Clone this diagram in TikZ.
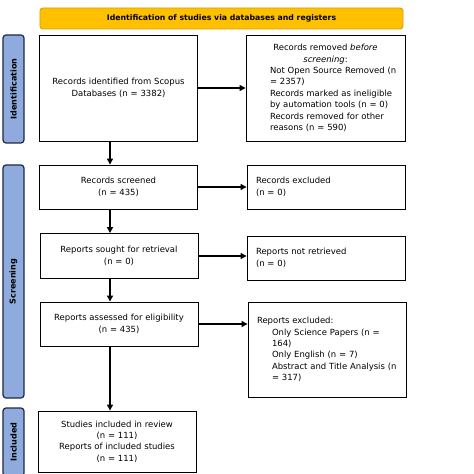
\documentclass[tikz,border=0pt]{standalone}
\usepackage{fontspec}
\setmainfont{DejaVu Sans}
\usetikzlibrary{arrows.meta}
\definecolor{bannerfill}{HTML}{FFC000}
\definecolor{bannerline}{HTML}{E39B00}
\definecolor{phasefill}{HTML}{8FAADC}
\definecolor{phaseline}{HTML}{1F2A44}

\begin{document}
\begin{tikzpicture}[x=1bp, y=-1bp,
  box/.style={draw, line width=0.9bp, minimum width=158bp, inner sep=0pt,
    font=\fontsize{8.5}{11.4}\selectfont},
  midbox/.style={box, align=center, text width=154bp},
  sidebox/.style={box, text width=148bp},
  phase/.style={draw=phaseline, fill=phasefill, line width=1.2bp, rounded corners=3bp,
    rotate=90, minimum height=21bp, inner sep=0pt, font=\fontsize{8.1}{9}\selectfont\bfseries},
  flow/.style={line width=1.3bp, -{Triangle[length=6bp, width=6bp]}}]
  \useasboundingbox (0,0) rectangle (474,474);

  \node[draw=bannerline, fill=bannerfill, line width=0.9bp, rounded corners=3bp,
    minimum width=363bp, minimum height=21bp, inner sep=0pt,
    font=\fontsize{7.8}{9}\selectfont\bfseries] (banner) at (221.5,18.5)
    {Identification of studies via databases and registers};

  \node[phase, minimum width=108bp] (phaseid) at (13.5,89) {Identification};
  \node[phase, minimum width=233bp] (phasescr) at (13.5,281.5) {Screening};
  \node[phase, minimum width=68bp] (phaseinc) at (13.5,442) {Included};

  \node[midbox, minimum height=106bp] (ident) at (118.5,88)
    {Records identified from Scopus\\Databases (n = 3382)};
  \node[sidebox, minimum width=159bp, minimum height=106bp] (removed) at (325.5,88)
    {{\centering Records removed \textit{before}\\\textit{screening}:\par}
     {\raggedright\leftskip=18.5bp Not Open Source Removed (n\\= 2357)\\
      Records marked as ineligible\\by automation tools (n = 0)\\
      Records removed for other\\reasons (n = 590)\par}};

  \node[midbox, minimum height=44bp] (screened) at (118.5,187)
    {Records screened\\(n = 435)};
  \node[sidebox, minimum height=44bp] (excluded) at (326,187)
    {{\raggedright\leftskip=4bp Records excluded\\(n = 0)\par}};

  \node[midbox, minimum height=45bp] (sought) at (119,256)
    {Reports sought for retrieval\\(n = 0)};
  \node[sidebox, minimum height=44bp] (notret) at (326,258)
    {{\raggedright\leftskip=4bp Reports not retrieved\\(n = 0)\par}};

  \node[midbox, minimum height=44bp] (assessed) at (119,324)
    {Reports assessed for eligibility\\(n = 435)};
  \node[sidebox, minimum height=95bp] (repexcl) at (327,349.5)
    {{\raggedright\leftskip=4bp Reports excluded:\par}
     {\raggedright\leftskip=19bp Only Science Papers (n =\\164)\\Only English (n = 7)\\
      Abstract and Title Analysis (n\\= 317)\par}\vspace*{20bp}};

  \node[midbox, minimum height=61bp] (included) at (117,441.5)
    {Studies included in review\\(n = 111)\\Reports of included studies\\(n = 111)};

  \draw[flow] (ident.east) -- (removed.west);
  \draw[flow] (screened.east) -- (excluded.west);
  \draw[flow] (sought.east) -- (sought.east -| notret.west);
  \draw[flow] (assessed.east) -- (assessed.east -| repexcl.west);
  \draw[flow] ([xshift=-8.5bp]ident.south) -- ([xshift=-8.5bp]screened.north);
  \draw[flow] ([xshift=-8.5bp]screened.south) -- ([xshift=-8.5bp]screened.south |- sought.north);
  \draw[flow] ([xshift=-9bp]sought.south) -- ([xshift=-9bp]sought.south |- assessed.north);
  \draw[flow] ([xshift=-9bp]assessed.south) -- ([xshift=-9bp]assessed.south |- included.north);
\end{tikzpicture}
\end{document}
